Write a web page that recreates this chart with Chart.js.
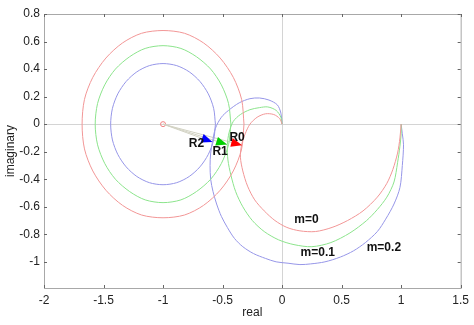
<!DOCTYPE html>
<html>
<head>
<meta charset="utf-8">
<script src="https://cdn.jsdelivr.net/npm/chart.js@4.4.1/dist/chart.umd.min.js"></script>
<style>
  html, body { margin: 0; padding: 0; background: #fff; }
  #wrap { width: 474px; height: 325px; }
</style>
</head>
<body>
<div id="wrap"><canvas id="myChart" width="474" height="325"></canvas></div>
<script>
// nyquist curves
var redX   = [1.00, 0.99, 0.97, 0.93, 0.88, 0.80, 0.68, 0.55, 0.42, 0.28, 0.15, 0.04, -0.06, -0.15, -0.23, -0.29, -0.33, -0.35, -0.34, -0.31, -0.27, -0.21, -0.14, -0.07, -0.02, 0.00];
var redY   = [0.00, -0.10, -0.21, -0.33, -0.43, -0.53, -0.63, -0.70, -0.75, -0.78, -0.775, -0.75, -0.70, -0.63, -0.55, -0.45, -0.34, -0.24, -0.15, -0.07, 0.00, 0.05, 0.075, 0.07, 0.04, 0.00];
var greenX = [1.00, 1.00, 0.99, 0.97, 0.94, 0.88, 0.80, 0.71, 0.57, 0.41, 0.25, 0.10, -0.03, -0.15, -0.25, -0.33, -0.39, -0.43, -0.455, -0.46, -0.445, -0.41, -0.35, -0.27, -0.19, -0.12, -0.05, -0.01, 0.00];
var greenY = [0.00, -0.07, -0.16, -0.28, -0.42, -0.53, -0.62, -0.70, -0.79, -0.86, -0.89, -0.875, -0.84, -0.78, -0.70, -0.60, -0.49, -0.37, -0.26, -0.15, -0.06, 0.02, 0.07, 0.105, 0.12, 0.125, 0.10, 0.05, 0.00];
var blueX  = [1.00, 1.01, 1.02, 1.01, 0.99, 0.94, 0.87, 0.80, 0.70, 0.60, 0.49, 0.36, 0.24, 0.15, 0.05, -0.05, -0.14, -0.24, -0.33, -0.40, -0.46, -0.51, -0.55, -0.58, -0.60, -0.605, -0.60, -0.585, -0.56, -0.51, -0.45, -0.36, -0.27, -0.19, -0.11, -0.04, -0.01, 0.00];
var blueY  = [0.00, -0.07, -0.15, -0.30, -0.46, -0.58, -0.69, -0.78, -0.86, -0.92, -0.965, -1.00, -1.015, -1.02, -1.01, -1.00, -0.975, -0.94, -0.89, -0.83, -0.75, -0.67, -0.58, -0.49, -0.40, -0.30, -0.21, -0.13, -0.03, 0.05, 0.10, 0.155, 0.185, 0.19, 0.175, 0.14, 0.08, 0.00];

// margin circles round (-1,0)
var redCircX   = [-0.32, -0.34, -0.41, -0.52, -0.66, -0.82, -1.00, -1.18, -1.34, -1.48, -1.59, -1.66, -1.68, -1.66, -1.59, -1.48, -1.34, -1.18, -1.00, -0.82, -0.66, -0.52, -0.41, -0.34, -0.32];
var redCircY   = [0.00, 0.18, 0.34, 0.48, 0.59, 0.66, 0.68, 0.66, 0.59, 0.48, 0.34, 0.18, 0.00, -0.18, -0.34, -0.48, -0.59, -0.66, -0.68, -0.66, -0.59, -0.48, -0.34, -0.18, 0.00];
var greenCircX = [-0.43, -0.45, -0.51, -0.60, -0.72, -0.85, -1.00, -1.15, -1.28, -1.40, -1.49, -1.55, -1.57, -1.55, -1.49, -1.40, -1.28, -1.15, -1.00, -0.85, -0.72, -0.60, -0.51, -0.45, -0.43];
var greenCircY = [0.00, 0.15, 0.285, 0.40, 0.49, 0.55, 0.57, 0.55, 0.49, 0.40, 0.285, 0.15, 0.00, -0.15, -0.285, -0.40, -0.49, -0.55, -0.57, -0.55, -0.49, -0.40, -0.285, -0.15, 0.00];
var blueCircX  = [-0.56, -0.575, -0.62, -0.69, -0.78, -0.885, -1.00, -1.115, -1.22, -1.31, -1.38, -1.425, -1.44, -1.425, -1.38, -1.31, -1.22, -1.115, -1.00, -0.885, -0.78, -0.69, -0.62, -0.575, -0.56];
var blueCircY  = [0.00, 0.115, 0.22, 0.31, 0.38, 0.425, 0.44, 0.425, 0.38, 0.31, 0.22, 0.115, 0.00, -0.115, -0.22, -0.31, -0.38, -0.425, -0.44, -0.425, -0.38, -0.31, -0.22, -0.115, 0.00];

// R vectors from the critical point
var critX = -1, critY = 0;
var arrowNames = ['R0', 'R1', 'R2'];
var arrowX = [-0.336, -0.462, -0.585];
var arrowY = [-0.153, -0.148, -0.13];
var arrowColors = ['#ff0000', '#00d000', '#0000ff'];

// curve labels
var mNames = ['m=0', 'm=0.1', 'm=0.2'];
var mX = [0.205, 0.30, 0.855];
var mY = [-0.695, -0.93, -0.895];

var xTicks = [-2, -1.5, -1, -0.5, 0, 0.5, 1, 1.5];
var yTicks = [-1, -0.8, -0.6, -0.4, -0.2, 0, 0.2, 0.4, 0.6, 0.8];

function pts(xs, ys) {
  var out = [];
  for (let i = 0; i < xs.length; i++) out.push({x: xs[i], y: ys[i]});
  return out;
}

function curve(xs, ys, color, tension) {
  return {
    data: pts(xs, ys),
    showLine: true,
    borderColor: color,
    borderWidth: 1,
    pointRadius: 0,
    tension: tension,
    fill: false
  };
}

var datasets = [
  curve(redCircX, redCircY, 'rgb(242,150,150)', 0.3),
  curve(greenCircX, greenCircY, 'rgb(140,228,140)', 0.3),
  curve(blueCircX, blueCircY, 'rgb(150,150,232)', 0.3),
  curve(redX, redY, 'rgb(242,150,150)', 0.3),
  curve(greenX, greenY, 'rgb(140,228,140)', 0.3),
  curve(blueX, blueY, 'rgb(150,150,232)', 0.3)
];
for (let i = 0; i < arrowX.length; i++) {
  datasets.push({
    data: [{x: critX, y: critY}, {x: arrowX[i], y: arrowY[i]}],
    showLine: true,
    borderColor: 'rgb(210,210,195)',
    borderWidth: 1,
    pointRadius: 0,
    tension: 0
  });
}
datasets.push({
  data: [{x: critX, y: critY}],
  pointStyle: 'circle',
  pointRadius: 2.5,
  borderColor: 'rgb(240,130,130)',
  backgroundColor: 'rgba(0,0,0,0)',
  borderWidth: 1
});

// box, inward ticks, arrowheads and labels
var decor = {
  id: 'decor',
  afterDatasetsDraw: function(chart) {
    var ctx = chart.ctx;
    var a = chart.chartArea;
    var xs = chart.scales.x, ys = chart.scales.y;
    ctx.save();
    ctx.strokeStyle = '#a8a8a8';
    ctx.lineWidth = 1;
    ctx.strokeRect(a.left + 0.5, a.top + 0.5, a.right - a.left, a.bottom - a.top);
    ctx.strokeStyle = '#666';
    ctx.beginPath();
    xTicks.forEach(function(v) {
      var px = Math.round(xs.getPixelForValue(v)) + 0.5;
      ctx.moveTo(px, a.bottom); ctx.lineTo(px, a.bottom - 3);
      ctx.moveTo(px, a.top); ctx.lineTo(px, a.top + 3);
    });
    yTicks.forEach(function(v) {
      var py = Math.round(ys.getPixelForValue(v)) + 0.5;
      ctx.moveTo(a.left, py); ctx.lineTo(a.left + 3, py);
      ctx.moveTo(a.right, py); ctx.lineTo(a.right - 3, py);
    });
    ctx.stroke();

    // arrowheads
    for (let i = 0; i < arrowX.length; i++) {
      var x0 = xs.getPixelForValue(critX), y0 = ys.getPixelForValue(critY);
      var x1 = xs.getPixelForValue(arrowX[i]), y1 = ys.getPixelForValue(arrowY[i]);
      var ang = Math.atan2(y1 - y0, x1 - x0);
      var len = 11, half = 4.5;
      var bx = x1 - len * Math.cos(ang), by = y1 - len * Math.sin(ang);
      ctx.fillStyle = arrowColors[i];
      ctx.beginPath();
      ctx.moveTo(x1, y1);
      ctx.lineTo(bx + half * Math.sin(ang), by - half * Math.cos(ang));
      ctx.lineTo(bx - half * Math.sin(ang), by + half * Math.cos(ang));
      ctx.closePath();
      ctx.fill();
    }

    ctx.fillStyle = '#111';
    ctx.font = 'bold 12px "Liberation Sans", Arial, sans-serif';
    ctx.textAlign = 'center';
    ctx.textBaseline = 'middle';
    var offs = [[-5, -8], [-7, 7], [-16, 2]];
    for (let i = 0; i < arrowNames.length; i++) {
      ctx.fillText(arrowNames[i], xs.getPixelForValue(arrowX[i]) + offs[i][0], ys.getPixelForValue(arrowY[i]) + offs[i][1]);
    }
    for (let i = 0; i < mNames.length; i++) {
      ctx.fillText(mNames[i], xs.getPixelForValue(mX[i]), ys.getPixelForValue(mY[i]));
    }
    ctx.restore();
  }
};

function zeroGrid(c) {
  return c.tick && c.tick.value === 0 ? '#d4d4d4' : 'rgba(0,0,0,0)';
}

var ctx = document.getElementById('myChart');
var myChart = new Chart(ctx, {
  type: 'scatter',
  data: { datasets: datasets },
  plugins: [decor],
  options: {
    responsive: false,
    animation: false,
    layout: { padding: { left: 0, right: 13, top: 14, bottom: 0 } },
    plugins: { legend: { display: false }, tooltip: { enabled: false } },
    scales: {
      x: {
        type: 'linear',
        min: -2, max: 1.5,
        afterBuildTicks: function(s) { s.ticks = xTicks.map(function(v) { return {value: v}; }); },
        afterFit: function(s) { s.height = 37; },
        grid: { color: zeroGrid, drawTicks: false, lineWidth: 1 },
        border: { display: false },
        ticks: {
          color: '#222', padding: 5, maxRotation: 0, autoSkip: false,
          font: { family: '"Liberation Sans", Arial, sans-serif', size: 12 },
          callback: function(v) { return String(Math.round(v * 10) / 10); }
        },
        title: {
          display: true, text: 'real', color: '#222',
          font: { family: '"Liberation Sans", Arial, sans-serif', size: 12 },
          padding: { top: 0, bottom: 5 }
        }
      },
      y: {
        type: 'linear',
        min: -1.19, max: 0.8,
        afterBuildTicks: function(s) { s.ticks = yTicks.map(function(v) { return {value: v}; }); },
        afterFit: function(s) { s.width = 44; },
        grid: { color: zeroGrid, drawTicks: false, lineWidth: 1 },
        border: { display: false },
        ticks: {
          color: '#222', padding: 4, autoSkip: false,
          font: { family: '"Liberation Sans", Arial, sans-serif', size: 12 },
          callback: function(v) { return String(Math.round(v * 10) / 10); }
        },
        title: {
          display: true, text: 'imaginary', color: '#222',
          font: { family: '"Liberation Sans", Arial, sans-serif', size: 12 },
          padding: { top: 3, bottom: 0 }
        }
      }
    }
  }
});
</script>
</body>
</html>
